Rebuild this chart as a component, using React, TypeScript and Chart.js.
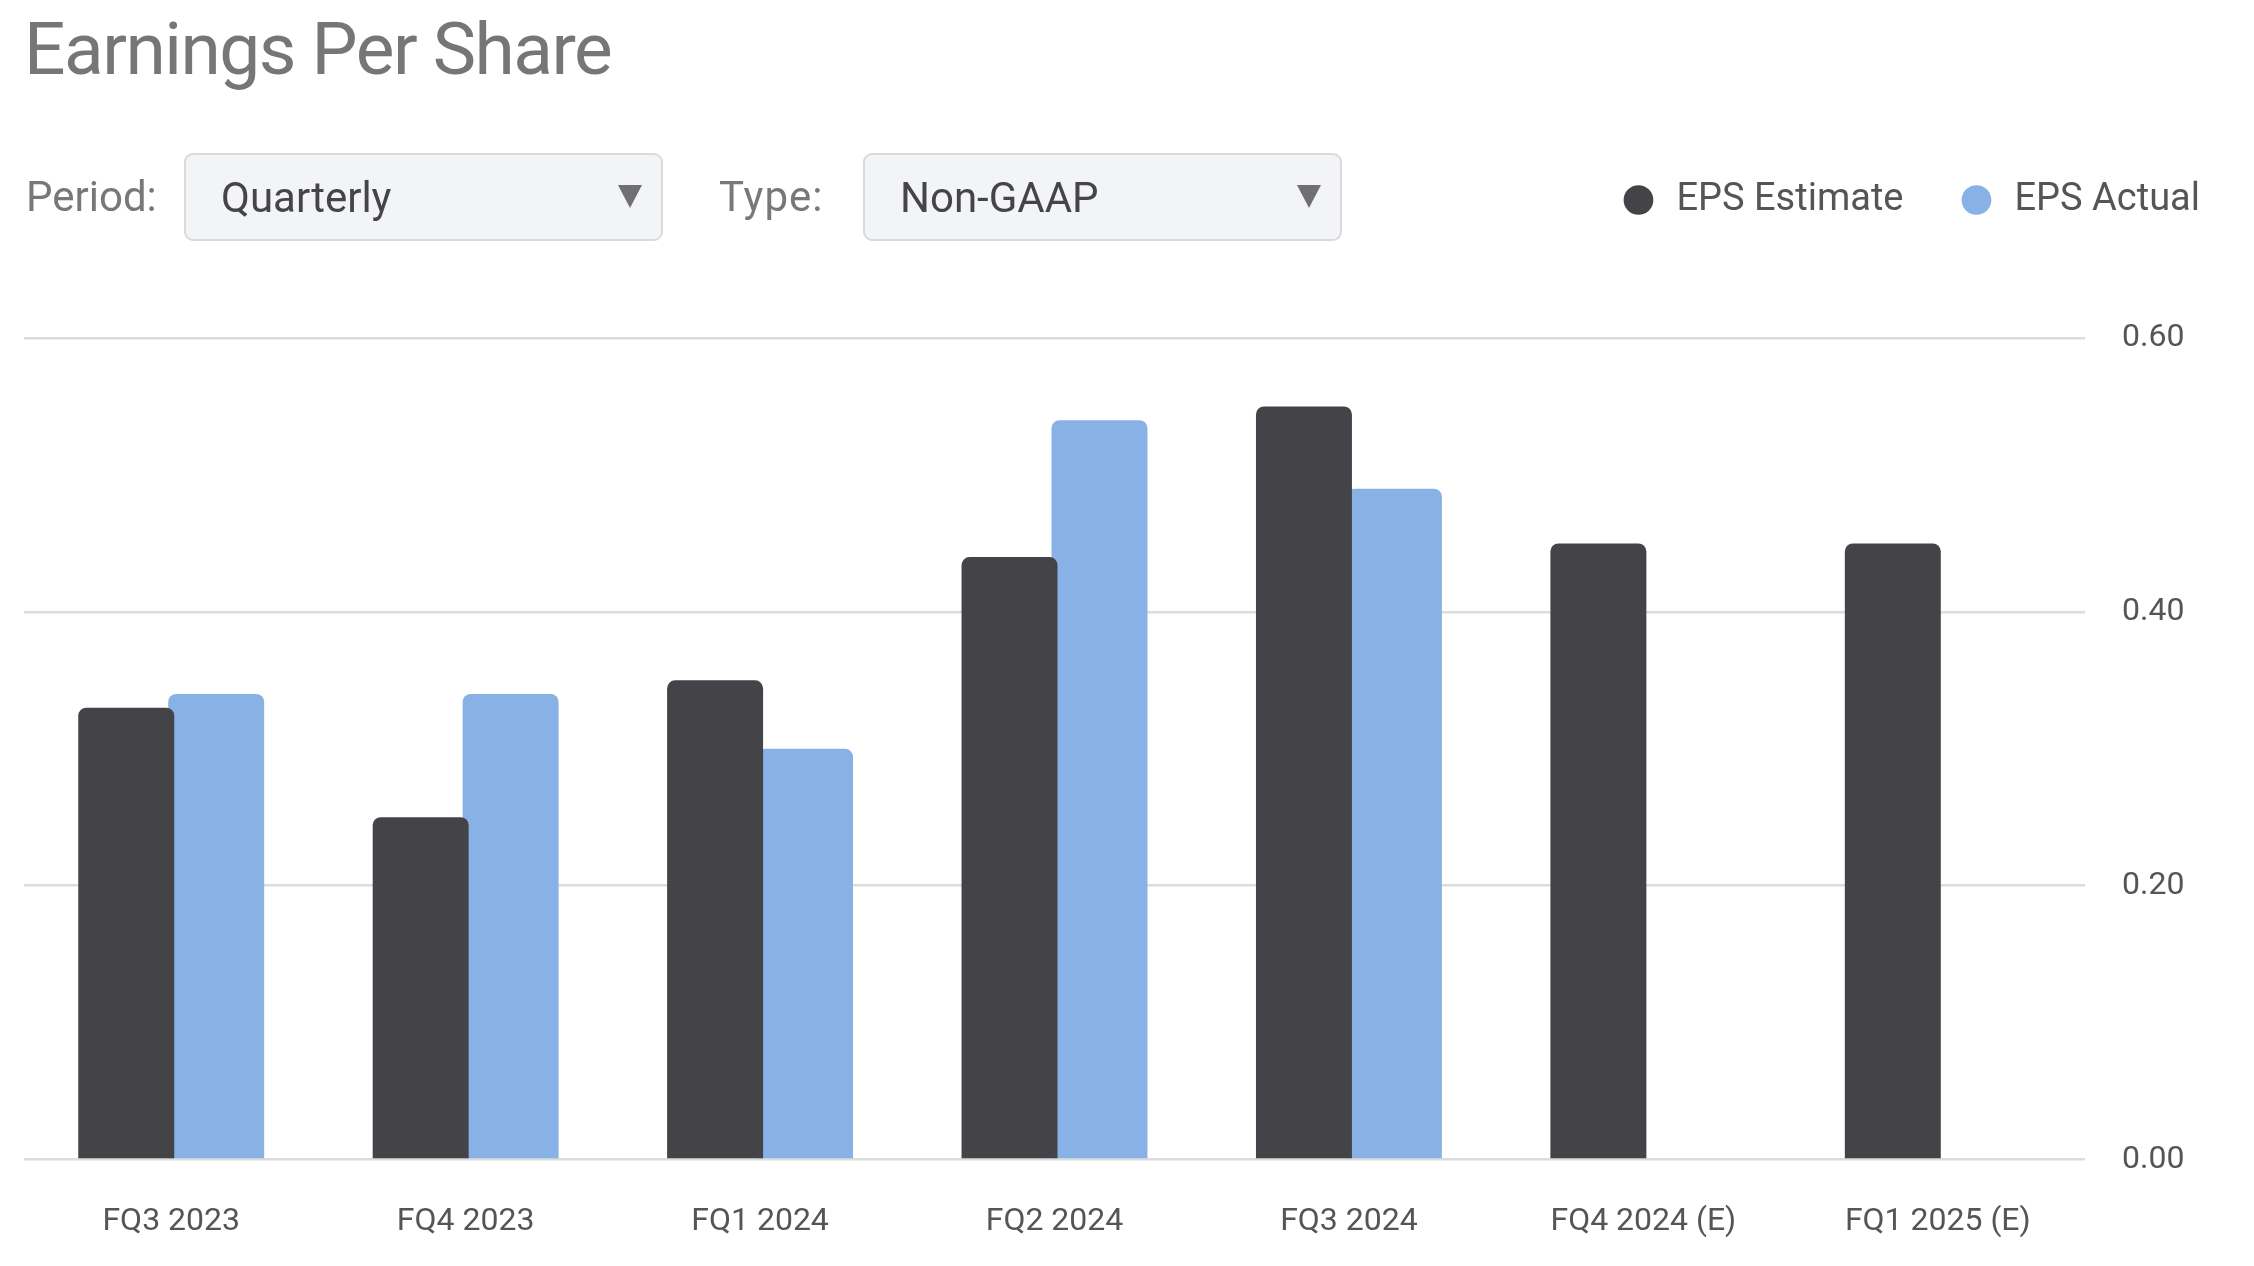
import { useEffect, useRef } from 'react';
import { Chart } from 'chart.js/auto';

const quarters = ['FQ3 2023', 'FQ4 2023', 'FQ1 2024', 'FQ2 2024', 'FQ3 2024', 'FQ4 2024 (E)', 'FQ1 2025 (E)'];
const epsEstimate = [0.33, 0.25, 0.35, 0.44, 0.55, 0.45, 0.45];
const epsActual = [0.34, 0.34, 0.30, 0.54, 0.49, null, null];
const yTicks = [0, 0.2, 0.4, 0.6];

const FONT = 'Roboto, "Noto Sans", sans-serif';

// legend sits in the dropdown row, so give it a fixed tall box to push the plot down
const legendSpacer = {
    id: 'legendSpacer',
    beforeInit(chart: any) {
        const fit = chart.legend.fit;
        chart.legend.fit = function () {
            fit.bind(chart.legend)();
            this.height = 211;
        };
    }
};

const Dropdown = ({ left, text }: { left: number, text: string }) => (
    <div style={{
        position: 'absolute', left, top: 153, width: 479, height: 88, boxSizing: 'border-box',
        border: '2.5px solid #dadada', borderRadius: 9, background: '#f3f4f7',
        display: 'flex', alignItems: 'center', paddingLeft: 35,
        fontSize: 42, color: '#454545'
    }}>
        {text}
        <div style={{
            position: 'absolute', left: 432, top: 30, width: 0, height: 0,
            borderLeft: '12px solid transparent', borderRight: '12px solid transparent',
            borderTop: '23px solid #707070'
        }} />
    </div>
);

const EpsChart = () => {
    const chartRef = useRef<HTMLCanvasElement | null>(null);
    const chartInstanceRef = useRef<Chart | null>(null);

    useEffect(() => {
        if (!chartRef.current) return;

        if (chartInstanceRef.current) {
            chartInstanceRef.current.destroy();
        };

        chartInstanceRef.current = new Chart(chartRef.current, {
            type: 'bar',
            data: {
                labels: quarters,
                datasets: [{
                    label: 'EPS Estimate',
                    data: epsEstimate,
                    backgroundColor: '#444448',
                    borderWidth: 0,
                    borderRadius: 8,
                    categoryPercentage: 0.611,
                    barPercentage: 1.067,
                }, {
                    label: 'EPS Actual',
                    data: epsActual,
                    backgroundColor: '#88b2e6',
                    borderWidth: 0,
                    borderRadius: 8,
                    categoryPercentage: 0.611,
                    barPercentage: 1.067,
                }]
            },
            options: {
                responsive: false,
                animation: false,
                layout: {
                    padding: { left: 24, right: 0, top: 0, bottom: 27 }
                },
                plugins: {
                    legend: {
                        position: 'top',
                        align: 'end',
                        labels: {
                            usePointStyle: true,
                            pointStyle: 'circle',
                            boxWidth: 40,
                            boxHeight: 21,
                            padding: 54,
                            color: '#555555',
                            font: { family: FONT, size: 38 }
                        }
                    },
                    tooltip: { enabled: false }
                },
                scales: {
                    x: {
                        grid: { display: false, drawTicks: false },
                        border: { display: false },
                        ticks: {
                            padding: 43,
                            color: '#555555',
                            autoSkip: false,
                            maxRotation: 0,
                            font: { family: FONT, size: 32 }
                        }
                    },
                    y: {
                        position: 'right',
                        min: 0,
                        max: 0.6,
                        afterBuildTicks: (scale: any) => {
                            scale.ticks = yTicks.map(v => ({ value: v }));
                        },
                        afterFit: (scale: any) => {
                            scale.width = 169;
                        },
                        grid: { color: '#dcdcdc', lineWidth: 2.5, drawTicks: false },
                        border: { display: false },
                        ticks: {
                            padding: 37,
                            color: '#555555',
                            font: { family: FONT, size: 32 },
                            callback: (v: any) => Number(v).toFixed(2)
                        }
                    }
                }
            },
            plugins: [legendSpacer]
        });

        return () => {
            if (chartInstanceRef.current) {
                chartInstanceRef.current.destroy();
                chartInstanceRef.current = null;
            }
        }
    }, []);

    return <div style={{ position: 'absolute', left: 0, top: 127, width: 2254, height: 1184 }}>
        <canvas ref={chartRef} width={2254} height={1184}></canvas>
    </div>
};

export default function App() {
    return <div style={{ position: 'fixed', inset: 0, background: '#ffffff', fontFamily: FONT, overflow: 'hidden' }}>
        <EpsChart />
        <div style={{
            position: 'absolute', left: 24, top: 0, height: 98, lineHeight: '98px',
            fontSize: 73, color: '#767676', letterSpacing: -1.5, whiteSpace: 'nowrap'
        }}>Earnings Per Share</div>
        <div style={{ position: 'absolute', left: 26, top: 153, height: 88, lineHeight: '88px', fontSize: 42, color: '#787878' }}>Period:</div>
        <Dropdown left={184} text="Quarterly" />
        <div style={{ position: 'absolute', left: 719, top: 153, height: 88, lineHeight: '88px', fontSize: 42, color: '#787878', letterSpacing: 1 }}>Type:</div>
        <Dropdown left={863} text="Non-GAAP" />
    </div>
};
